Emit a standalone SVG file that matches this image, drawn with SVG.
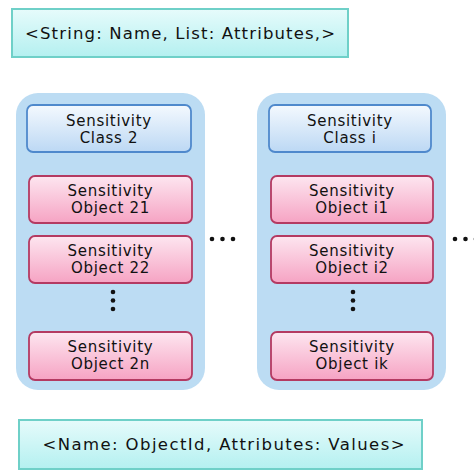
<svg xmlns="http://www.w3.org/2000/svg" width="474" height="474" viewBox="0 0 474 474">
<defs>
<linearGradient id="gCyan" x1="0" y1="0" x2="0" y2="1">
<stop offset="0" stop-color="#e6fbfb"/><stop offset="1" stop-color="#b4f0f0"/>
</linearGradient>
<linearGradient id="gBlue" x1="0" y1="0" x2="0" y2="1">
<stop offset="0" stop-color="#f4f9fe"/><stop offset="1" stop-color="#bcd8f4"/>
</linearGradient>
<linearGradient id="gPink" x1="0" y1="0" x2="0" y2="1">
<stop offset="0" stop-color="#fde6f0"/><stop offset="1" stop-color="#f6a3c3"/>
</linearGradient>
<style>
text{font-family:"DejaVu Sans","Liberation Sans",sans-serif;fill:#111;text-anchor:middle}
.lbl{font-size:15px;letter-spacing:0.7px}
.hdr{font-size:16.5px}
.cyan{fill:url(#gCyan);stroke:#6fd0c8;stroke-width:2}
.cont{fill:#bcdcf3}
.cls{fill:url(#gBlue);stroke:#4f89cc;stroke-width:1.8}
.obj{fill:url(#gPink);stroke:#b43a62;stroke-width:1.8}
.dot{fill:#111}
</style>
</defs>
<g id="top-record">
<rect class="cyan" x="12" y="9" width="336" height="48"/>
<text class="hdr" x="180" y="39" textLength="310">&lt;String: Name, List: Attributes,&gt;</text>
</g>
<g id="container-2">
<rect class="cont" x="16" y="93" width="189" height="297" rx="22"/>
</g>
<g id="container-i">
<rect class="cont" x="257" y="93" width="189" height="297" rx="22"/>
</g>
<g id="class-2">
<rect class="cls" x="27" y="105" width="164" height="47" rx="6"/>
<text class="lbl" x="109" y="126">Sensitivity</text>
<text class="lbl" x="109" y="143">Class 2</text>
</g>
<g id="object-21">
<rect class="obj" x="29" y="176" width="163" height="47" rx="6"/>
<text class="lbl" x="110.5" y="196">Sensitivity</text>
<text class="lbl" x="110.5" y="213">Object 21</text>
</g>
<g id="object-22">
<rect class="obj" x="29" y="236" width="163" height="47" rx="6"/>
<text class="lbl" x="110.5" y="256">Sensitivity</text>
<text class="lbl" x="110.5" y="273">Object 22</text>
</g>
<g id="object-2n">
<rect class="obj" x="29" y="332" width="163" height="48" rx="6"/>
<text class="lbl" x="110.5" y="352">Sensitivity</text>
<text class="lbl" x="110.5" y="369">Object 2n</text>
</g>
<g id="class-i">
<rect class="cls" x="269" y="105" width="162" height="47" rx="6"/>
<text class="lbl" x="350" y="126">Sensitivity</text>
<text class="lbl" x="350" y="143">Class i</text>
</g>
<g id="object-i1">
<rect class="obj" x="271" y="176" width="162" height="47" rx="6"/>
<text class="lbl" x="352" y="196">Sensitivity</text>
<text class="lbl" x="352" y="213">Object i1</text>
</g>
<g id="object-i2">
<rect class="obj" x="271" y="236" width="162" height="47" rx="6"/>
<text class="lbl" x="352" y="256">Sensitivity</text>
<text class="lbl" x="352" y="273">Object i2</text>
</g>
<g id="object-ik">
<rect class="obj" x="271" y="332" width="162" height="48" rx="6"/>
<text class="lbl" x="352" y="352">Sensitivity</text>
<text class="lbl" x="352" y="369">Object ik</text>
</g>
<g id="ellipses">
<circle class="dot" cx="113" cy="292" r="2.3"/>
<circle class="dot" cx="113" cy="300.5" r="2.3"/>
<circle class="dot" cx="113" cy="309" r="2.3"/>
<circle class="dot" cx="353" cy="292" r="2.3"/>
<circle class="dot" cx="353" cy="300.5" r="2.3"/>
<circle class="dot" cx="353" cy="309" r="2.3"/>
<circle class="dot" cx="212" cy="239" r="2.3"/>
<circle class="dot" cx="222.5" cy="239" r="2.3"/>
<circle class="dot" cx="233" cy="239" r="2.3"/>
<circle class="dot" cx="455" cy="239" r="2.3"/>
<circle class="dot" cx="465.5" cy="239" r="2.3"/>
<circle class="dot" cx="476" cy="239" r="2.3"/>
</g>
<g id="bottom-record">
<rect class="cyan" x="19" y="420" width="403" height="49"/>
<text class="hdr" x="223.5" y="450" textLength="362">&lt;Name: ObjectId, Attributes: Values&gt;</text>
</g>
</svg>
